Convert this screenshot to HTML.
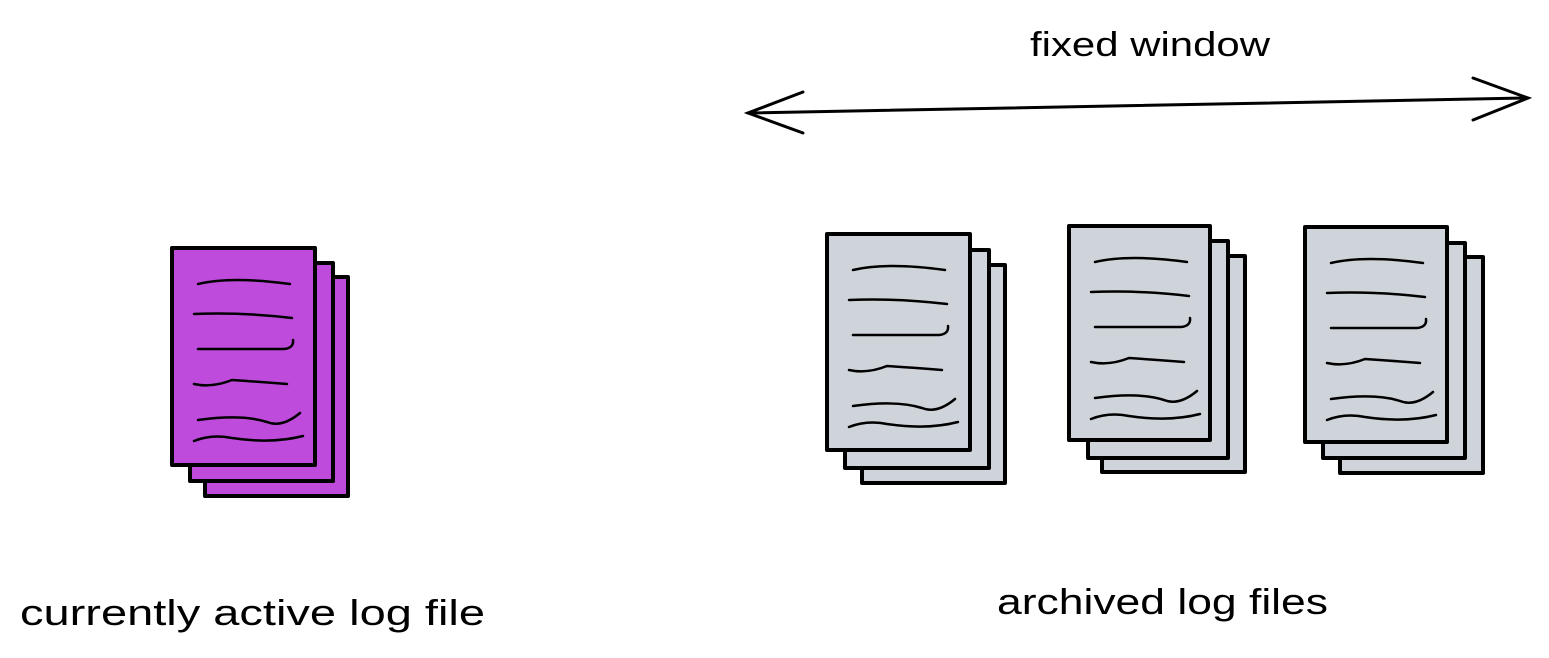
<!DOCTYPE html>
<html><head><meta charset="utf-8"><style>
html,body{margin:0;padding:0;background:#fff;width:1549px;height:658px;overflow:hidden}
svg{display:block}
text{font-family:"Comic Sans MS","Liberation Sans",sans-serif;fill:#000}
</style></head><body>
<svg width="1549" height="658" viewBox="0 0 1549 658" xmlns="http://www.w3.org/2000/svg">
<defs>
<g id="lines" fill="none" stroke="#000" stroke-width="2.5" stroke-linecap="round">
<path d="M26 36 Q60 28 118 36"/>
<path d="M22 66 Q70 64 120 70"/>
<path d="M26 101 L112 101 Q122 100 121 92"/>
<path d="M22 136 Q40 140 60 132 Q90 134 115 136"/>
<path d="M26 172 Q70 166 95 174 Q110 180 128 165"/>
<path d="M22 193 Q40 186 60 190 Q100 196 131 188"/>
</g>
</defs>
<g stroke="#000" stroke-width="4" fill="#be4bdb" stroke-linejoin="round">
<rect x="205" y="277" width="143" height="219"/>
<rect x="190" y="263" width="143" height="218"/>
<rect x="172" y="248" width="143" height="217"/>
</g>
<use href="#lines" x="172" y="248"/>
<g stroke="#000" stroke-width="4" fill="#ced4da" stroke-linejoin="round">
<rect x="862" y="265" width="143" height="218"/>
<rect x="845" y="250" width="144" height="218"/>
<rect x="827" y="234" width="143" height="216"/>
</g>
<use href="#lines" x="827" y="234"/>
<g stroke="#000" stroke-width="4" fill="#ced4da" stroke-linejoin="round">
<rect x="1102" y="256" width="143" height="216"/>
<rect x="1088" y="241" width="140" height="217"/>
<rect x="1069" y="226" width="141" height="214"/>
</g>
<use href="#lines" x="1069" y="226"/>
<g stroke="#000" stroke-width="4" fill="#ced4da" stroke-linejoin="round">
<rect x="1340" y="257" width="143" height="216"/>
<rect x="1323" y="243" width="142" height="215"/>
<rect x="1305" y="227" width="142" height="215"/>
</g>
<use href="#lines" x="1305" y="227"/>
<g fill="none" stroke="#000" stroke-width="3" stroke-linecap="round">
<path d="M748 113 L1528 98"/>
<path d="M803 92 L748 113 L803 133"/>
<path d="M1473 78 L1528 98 L1473 120"/>
</g>
<text x="1030" y="56" font-size="34" textLength="240" lengthAdjust="spacingAndGlyphs">fixed window</text>
<text x="20" y="625" font-size="36" textLength="465" lengthAdjust="spacingAndGlyphs">currently active log file</text>
<text x="997" y="614" font-size="36" textLength="331" lengthAdjust="spacingAndGlyphs">archived log files</text>
</svg>
</body></html>
